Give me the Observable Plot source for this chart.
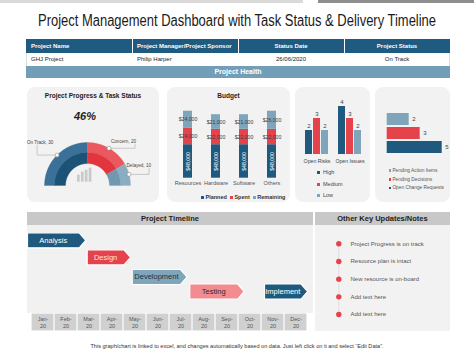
<!DOCTYPE html>
<html><head><meta charset="utf-8">
<script src="https://cdn.jsdelivr.net/npm/d3@7"></script>
<script src="https://cdn.jsdelivr.net/npm/@observablehq/plot@0.6"></script>
<style>
html,body{margin:0;padding:0;background:#fff;}
#root{position:relative;width:474px;height:355px;overflow:hidden;font-family:"Liberation Sans",Arial,sans-serif;color:#333;}
.abs{position:absolute;box-sizing:border-box;white-space:nowrap;}
.abs svg{display:block;overflow:visible;}
.sq{display:inline-block;width:3px;height:3px;margin-right:1.5px;vertical-align:middle;}
</style></head><body><div id="root"></div>
<script>
// ---------- data ----------
const titleText = "Project Management Dashboard with Task Status & Delivery Timeline";
const headerLabels = ["Project Name", "Project Manager/Project Sponsor", "Status Date", "Project Status"];
const headerValues = ["GHJ Project", "Philip Harper", "26/06/2020", "On Track"];
const taskStatus = ["On Track", "Concern", "Delayed"];
const taskCounts = [30, 20, 10];
const progressPercent = 46;
const iconBars = [7, 10, 12, 14];
const budgetCategories = ["Resources", "Hardware", "Software", "Others"];
const budgetSeries = ["Planned", "Spent", "Remaining"];
const plannedBudget = [48000, 48000, 48000, 48000];
const spentBudget = [24000, 22000, 22000, 22000];
const remainingBudget = [24000, 21000, 21000, 26000];
const riskGroups = ["Open Risks", "Open Issues"];
const severityLevels = ["High", "Medium", "Low"];
const openRisks = [2, 3, 2];
const openIssues = [4, 3, 2];
const actionLabels = ["Pending Action Items", "Pending Decisions", "Open Change Requests"];
const actionCounts = [2, 3, 5];
const monthLabels = ["Jan-20","Feb-20","Mar-20","Apr-20","May-20","Jun-20","Jul-20","Aug-20","Sep-20","Oct-20","Nov-20","Dec-20"];
const phaseNames = ["Analysis", "Design", "Development", "Testing", "Implement"];
const phaseStart = [0, 2.53, 4.44, 6.88, 10.05];   // in months from Jan-20
const phaseEnd = [2.47, 4.37, 6.77, 9.19, 11.88];
const phaseLane = [0, 1, 2.15, 3, 3];
const notes = ["Project Progress is on track", "Resource plan is intact", "New resource is on-board", "Add text here", "Add text here"];
const footerText = "This graph/chart is linked to excel, and changes automatically based on data. Just left click on it and select \u201CEdit Data\u201D.";

// ---------- style ----------
const C_DARK = "#1f5a7e", C_RED = "#e5434c", C_LIGHT = "#7fa5bb", C_PINK = "#f28c90";
const FONT = "Liberation Sans, Arial, sans-serif";
const root = document.getElementById("root");
function box(x, y, w, h, css, html) {
  const d = document.createElement("div");
  d.className = "abs";
  Object.assign(d.style, {left: x + "px", top: y + "px", width: w == null ? "auto" : w + "px", height: h == null ? "auto" : h + "px"}, css || {});
  if (html != null) d.innerHTML = html;
  root.appendChild(d);
  return d;
}
function plotStyle(extra) { return Object.assign({background: "none", fontFamily: FONT, fontSize: "6px", color: "#555", overflow: "visible"}, extra || {}); }

// top strip
box(0, 0, 303, 3, {background: "#dadada"});
box(318, 0, 156, 3, {background: "#8e8e8e"});

// title
const t = box(0, 10, 474, 22, {textAlign: "left", fontSize: "16px", color: "#1a1a1a", lineHeight: "22px"});
const ts = document.createElement("span"); ts.textContent = titleText; ts.style.display = "inline-block"; t.appendChild(ts);

// header table
const colX = [26, 132, 238, 344, 450];
box(26, 39, 424, 14, {background: "#1f5a80"});
box(26, 53, 424, 13, {background: "#fff", borderLeft: "0.5px solid #ddd", borderRight: "0.5px solid #ddd"});
for (let i = 0; i < 4; i++) {
  const center = i >= 2;
  const w = colX[i + 1] - colX[i];
  if (i > 0) box(colX[i], 39, 1, 14, {background: "#fff"});
  box(colX[i] + (center ? 0 : 5), 39, center ? w : w - 5, 14, {color: "#fff", fontWeight: "bold", fontSize: "6px", lineHeight: "14px", textAlign: center ? "center" : "left"}, headerLabels[i]);
  box(colX[i] + (center ? 0 : 5), 53, center ? w : w - 5, 13, {color: "#222", fontSize: "6px", lineHeight: "13px", textAlign: center ? "center" : "left"}, headerValues[i]);
}
box(26, 66, 424, 12, {background: "#739eb8", color: "#fff", fontWeight: "bold", fontSize: "7px", lineHeight: "12px", textAlign: "center"}, "Project Health");

// panels
const panelCss = {background: "#f2f2f2", borderRadius: "8px"};
box(27, 87, 132, 115, panelCss);
box(167, 87, 123, 115, panelCss);
box(295, 87, 75, 115, panelCss);
box(375, 87, 75, 115, panelCss);

// ---------- panel 1 : gauge ----------
box(27, 91, 132, 9, {textAlign: "center", fontWeight: "bold", fontSize: "6.5px", color: "#222", lineHeight: "9px"}, "Project Progress & Task Status");
box(27, 110, 116, 13, {textAlign: "center", fontWeight: "bold", fontStyle: "italic", fontSize: "11px", color: "#222", lineHeight: "13px"}, progressPercent + "%");
{
  const R = 43, W = 132, H = 70, cx = 60, cy = 60;
  const total = d3.sum(taskCounts);
  let cum = 0;
  const segs = taskStatus.map((s, i) => {
    const a0 = Math.PI * (1 - cum / total); cum += taskCounts[i];
    const a1 = Math.PI * (1 - cum / total);
    return {status: s, value: taskCounts[i], a0, a1, mid: (a0 + a1) / 2};
  });
  const ring = (a0, a1, r0, r1) => {
    const n = 48, pts = [];
    for (let k = 0; k <= n; k++) { const a = a0 + (a1 - a0) * k / n; pts.push([r1 * Math.cos(a), r1 * Math.sin(a)]); }
    for (let k = n; k >= 0; k--) { const a = a0 + (a1 - a0) * k / n; pts.push([r0 * Math.cos(a), r0 * Math.sin(a)]); }
    pts.push(pts[0]); return pts;
  };
  const outerCol = ["#3b7098", "#ea5860", "#8badc1"];
  const innerCol = ["#1c5276", "#e2363f", "#7099b1"];
  const leader = [{dx: -20, dy: 10, anchor: "middle", tdx: 3}, {dx: 26, dy: 4, anchor: "end", tdx: 1}, {dx: 20, dy: 6, anchor: "end", tdx: 2}];
  const labelPts = segs.map((s, i) => {
    const px = Math.cos(s.mid), py = Math.sin(s.mid);
    const ex = px + leader[i].dx / R, ey = py + leader[i].dy / R;
    return {...s, px, py, ex, ey, path: [[px, py], [ex, py], [ex, ey]], label: s.status + ", " + s.value};
  });
  const iconData = iconBars.map((h, i) => ({i, h}));
  const marks = [];
  segs.forEach((s, i) => {
    marks.push(Plot.line(ring(s.a0, s.a1, 0.77, 1), {x: d => d[0], y: d => d[1], fill: outerCol[i], stroke: outerCol[i], strokeWidth: 0.3}));
    marks.push(Plot.line(ring(s.a0, s.a1, 0.51, 0.77), {x: d => d[0], y: d => d[1], fill: innerCol[i], stroke: innerCol[i], strokeWidth: 0.3}));
  });
  marks.push(Plot.rect(iconData, {x1: d => (-10 + d.i * 3.9) / R, x2: d => (-7.3 + d.i * 3.9) / R, y1: 3.3 / R, y2: d => (3.3 + d.h) / R, fill: "#c9c9c9"}));
  labelPts.forEach((p, i) => {
    marks.push(Plot.line(p.path, {x: d => d[0], y: d => d[1], stroke: "#9a9a9a", strokeWidth: 0.5}));
    marks.push(Plot.text([p], {x: "ex", y: "ey", text: "label", lineAnchor: "bottom", dy: -1, dx: leader[i].tdx, textAnchor: leader[i].anchor, fontSize: 4.6, fill: "#444"}));
  });
  marks.push(Plot.dot(labelPts, {x: "px", y: "py", r: 2, fill: "#fff", stroke: "#8a8a8a", strokeWidth: 0.6}));
  const g = Plot.plot({
    width: W, height: H, margin: 0, style: plotStyle(),
    x: {domain: [-cx / R, (W - cx) / R], range: [0, W], axis: null},
    y: {domain: [-(H - cy) / R, cy / R], range: [H, 0], axis: null},
    marks
  });
  box(27, 125, W, H).appendChild(g);
}

// ---------- panel 2 : budget ----------
box(167, 91, 123, 9, {textAlign: "center", fontWeight: "bold", fontSize: "6.5px", color: "#222", lineHeight: "9px"}, "Budget");
{
  const valsBy = {Planned: plannedBudget, Spent: spentBudget, Remaining: remainingBudget};
  const data = budgetCategories.flatMap((c, i) => budgetSeries.map(s => ({category: c, series: s, value: valsBy[s][i]})));
  const fmt = d3.format("$,");
  const p = Plot.plot({
    width: 123, height: 85, marginTop: 5.7, marginBottom: 12.3, marginLeft: 5.75, marginRight: 3.25,
    style: plotStyle({fontSize: "5.6px", color: "#555"}),
    x: {domain: budgetCategories, paddingInner: 0.684, paddingOuter: 0.342, tickSize: 0, tickPadding: 3, label: null},
    y: {domain: [0, 96000], axis: null},
    color: {domain: budgetSeries, range: [C_DARK, C_RED, C_LIGHT]},
    marks: [
      Plot.barY(data, Plot.stackY({x: "category", y: "value", fill: "series"})),
      Plot.text(data, Plot.stackY({x: "category", y: "value", text: d => d.series === "Planned" ? null : fmt(d.value), fill: "#3c3c3c", fontSize: 5.2})),
      Plot.text(data, Plot.stackY({x: "category", y: "value", text: d => d.series === "Planned" ? fmt(d.value) : null, rotate: -90, fill: "#fff", fontSize: 5.2}))
    ]
  });
  box(167, 105, 123, 85).appendChild(p);
  const cols = [C_DARK, C_RED, C_LIGHT];
  box(201, 193, null, 8, {fontSize: "5.5px", fontWeight: "bold", color: "#333", lineHeight: "8px"},
    budgetSeries.map((s, i) => `<span class="sq" style="background:${cols[i]}"></span>${s}`).join("&nbsp;&nbsp;"));
}

// ---------- panel 3 : risks & issues ----------
{
  const data = riskGroups.flatMap((g, gi) => severityLevels.map((s, si) => ({group: g, level: s, count: (gi === 0 ? openRisks : openIssues)[si]})));
  const p = Plot.plot({
    width: 75, height: 74, marginTop: 14, marginBottom: 12, marginLeft: 8, marginRight: 6.5,
    style: plotStyle({fontSize: "5.2px", color: "#444"}),
    facet: {data, x: "group"},
    fx: {domain: riskGroups, paddingInner: 0.194, paddingOuter: 0, axis: "bottom", tickSize: 0, tickPadding: 4.5, label: null},
    x: {domain: severityLevels, paddingInner: 0.125, paddingOuter: 0.25, axis: null},
    y: {domain: [0, 4], axis: null},
    color: {domain: severityLevels, range: [C_DARK, C_RED, C_LIGHT]},
    marks: [
      Plot.barY(data, {x: "level", y: "count", fill: "level"}),
      Plot.text(data, {x: "level", y: "count", text: "count", dy: -4, fontSize: 6, fill: "#444"})
    ]
  });
  box(295, 92, 75, 74).appendChild(p);
  const cols = [C_DARK, C_RED, C_LIGHT];
  const ly = [172.3, 183.7, 195.3];
  severityLevels.forEach((s, i) => box(317, ly[i] - 4, null, 8, {fontSize: "5.5px", color: "#444", lineHeight: "8px"}, `<span class="sq" style="background:${cols[i]};margin-right:3px"></span>${s}`));
}

// ---------- panel 4 : action items ----------
{
  const data = actionLabels.map((l, i) => ({label: l, count: actionCounts[i]}));
  const p = Plot.plot({
    width: 75, height: 52, marginTop: 6.2, marginBottom: 3.2, marginLeft: 11.7, marginRight: 8.3,
    style: plotStyle(),
    x: {domain: [0, 5], axis: null},
    y: {domain: actionLabels, paddingInner: 0.155, paddingOuter: 0.0775, axis: null},
    color: {domain: actionLabels, range: [C_LIGHT, C_RED, C_DARK]},
    marks: [
      Plot.barX(data, {x: "count", y: "label", fill: "label"}),
      Plot.text(data, {x: "count", y: "label", text: "count", dx: 3, textAnchor: "start", fontSize: 6, fill: "#444"})
    ]
  });
  box(375, 105, 75, 52).appendChild(p);
  const cols = [C_LIGHT, C_RED, C_DARK];
  const ly = [170.7, 179.7, 188.3];
  actionLabels.forEach((s, i) => box(389, ly[i] - 4, null, 8, {fontSize: "4.8px", color: "#555", lineHeight: "8px"}, `<span class="sq" style="background:${cols[i]};width:2.4px;height:2.4px;margin-right:1px"></span>${s}`));
}

// ---------- timeline ----------
box(27, 212, 286, 13, {background: "#c8c8c8", color: "#222", fontWeight: "bold", fontSize: "7.5px", lineHeight: "13px", textAlign: "center"}, "Project Timeline");
box(315, 212, 135, 13, {background: "#c8c8c8", color: "#222", fontWeight: "bold", fontSize: "7.5px", lineHeight: "13px", textAlign: "center"}, "Other Key Updates/Notes");
box(27, 225, 286, 88, {background: "#f1f1f1"});
box(315, 225, 135, 106, {background: "#f2f2f2"});
{
  const W = 283, H = 88, h = 0.44, tip = 0.28;
  const phases = phaseNames.map((n, i) => ({name: n, s: phaseStart[i], e: phaseEnd[i], lane: phaseLane[i]}));
  const fills = [C_DARK, C_RED, C_LIGHT, C_PINK, C_DARK];
  const texts = ["#ffffff", "#fde3e4", "#16364b", "#3a2a2a", "#ffffff"];
  const marks = [];
  phases.forEach((ph, i) => {
    const poly = [[ph.s, ph.lane - h], [ph.e - tip, ph.lane - h], [ph.e, ph.lane], [ph.e - tip, ph.lane + h], [ph.s, ph.lane + h], [ph.s, ph.lane - h]];
    marks.push(Plot.line(poly, {x: d => d[0], y: d => d[1], fill: fills[i], stroke: "#fff", strokeWidth: 1.2}));
    marks.push(Plot.text([ph], {x: d => (d.s + d.e - tip) / 2, y: "lane", text: "name", fill: texts[i], fontSize: 7.5}));
  });
  const p = Plot.plot({
    width: W, height: H, margin: 0, style: plotStyle(),
    x: {domain: [0, 12], range: [0, W], axis: null},
    y: {domain: [-0.867, 4.288], range: [0, H], axis: null},
    marks
  });
  box(27, 225, W, H).appendChild(p);
  const m = Plot.plot({
    width: W, height: 18, margin: 0, style: plotStyle(),
    x: {domain: monthLabels, padding: 0, axis: null},
    marks: [
      Plot.cell(monthLabels, {x: d => d, fill: "#d0d0d0", inset: 0.6}),
      Plot.text(monthLabels, {x: d => d, text: d => d.replace("-", "-\n"), fontSize: 5.5, fill: "#555", lineHeight: 1.15})
    ]
  });
  box(27, 313, W, 18).appendChild(m);
}

// ---------- notes ----------
{
  const data = notes.map((n, i) => ({i, note: n}));
  const p = Plot.plot({
    width: 135, height: 105, margin: 0, style: plotStyle(),
    x: {domain: [0, 1], range: [23.3, 135], axis: null},
    y: {domain: [0, notes.length - 1], range: [18.3, 89], axis: null},
    marks: [
      Plot.line(data, {x: () => 0, y: "i", stroke: "#d0d0d0", strokeWidth: 0.6}),
      Plot.dot(data, {x: () => 0, y: "i", r: 2.7, fill: C_RED}),
      Plot.text(data, {x: () => 0, y: "i", text: "note", dx: 11.7, textAnchor: "start", fontSize: 6, fill: "#555"})
    ]
  });
  box(315, 225, 135, 105).appendChild(p);
}

// footer
box(0, 342, 474, 8, {textAlign: "center", fontSize: "5.6px", color: "#333", lineHeight: "8px"}, footerText);

// fit title: scale to the reference width and centre it
{
  const w = ts.getBoundingClientRect().width;
  const target = 398;
  ts.style.transformOrigin = "0 50%";
  ts.style.transform = `scaleX(${target / w})`;
  ts.style.marginLeft = ((474 - target) / 2) + "px";
}
</script></body></html>
